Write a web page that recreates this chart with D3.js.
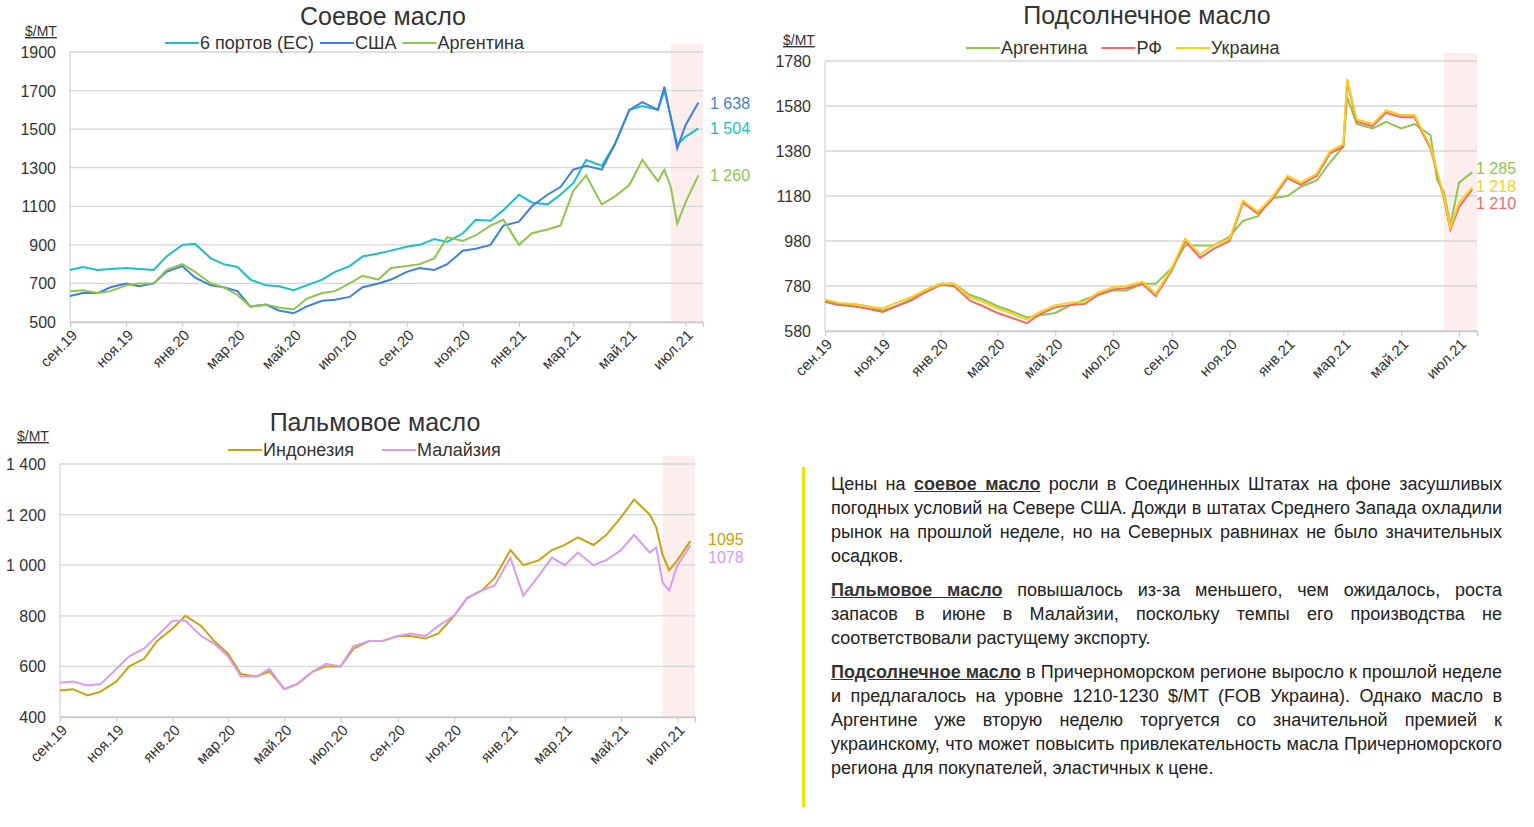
<!DOCTYPE html>
<html><head><meta charset="utf-8">
<script src="https://cdnjs.cloudflare.com/ajax/libs/d3/7.8.5/d3.min.js"></script>
<style>
body{margin:0;background:#fff;font-family:"Liberation Sans",Arial,sans-serif;}
#txt{position:absolute;left:831px;top:472px;width:671px;font-size:18px;line-height:24px;color:#222;text-align:justify;}
#txt p{margin:0 0 10px 0;}
#txt b{font-weight:bold;text-decoration:underline;color:#333;}
#bar{position:absolute;left:802px;top:467px;width:3px;height:340px;background:#f2e400;}
</style></head><body>
<svg id="c" width="1534" height="827"></svg>
<div id="bar"></div>
<div id="txt">
<p>Цены на <b>соевое масло</b> росли в Соединенных Штатах на фоне засушливых погодных условий на Севере США. Дожди в штатах Среднего Запада охладили рынок на прошлой неделе, но на Северных равнинах не было значительных осадков.</p>
<p><b>Пальмовое масло</b> повышалось из-за меньшего, чем ожидалось, роста запасов в июне в Малайзии, поскольку темпы его производства не соответствовали растущему экспорту.</p>
<p><b>Подсолнечное масло</b> в Причерноморском регионе выросло к прошлой неделе и предлагалось на уровне 1210-1230 $/MT (FOB Украина). Однако масло в Аргентине уже вторую неделю торгуется со значительной премией к украинскому, что может повысить привлекательность масла Причерноморского региона для покупателей, эластичных к цене.</p>
</div>
<script>
// ---- data ----
const baseDates = ["2019-09-01","2019-09-15","2019-10-01","2019-10-15","2019-11-01","2019-11-15","2019-12-01","2019-12-15",
  "2020-01-01","2020-01-15","2020-02-01","2020-02-15","2020-03-01","2020-03-15","2020-04-01","2020-04-15","2020-05-01","2020-05-15",
  "2020-06-01","2020-06-15","2020-07-01","2020-07-15","2020-08-01","2020-08-15","2020-09-01","2020-09-15","2020-10-01","2020-10-15",
  "2020-11-01","2020-11-15","2020-12-01","2020-12-15","2021-01-01","2021-01-15","2021-02-01","2021-02-15","2021-03-01","2021-03-15",
  "2021-04-01","2021-04-15","2021-05-01","2021-05-15","2021-06-01","2021-06-08","2021-06-15","2021-06-22","2021-07-01","2021-07-15"];
const sunDates = baseDates.slice(0,37).concat(["2021-03-05"]).concat(baseDates.slice(37));

const tickLabels = ["сен.19","ноя.19","янв.20","мар.20","май.20","июл.20","сен.20","ноя.20","янв.21","мар.21","май.21","июл.21"];
const tickDates = ["2019-09-01","2019-11-01","2020-01-01","2020-03-01","2020-05-01","2020-07-01","2020-09-01","2020-11-01","2021-01-01","2021-03-01","2021-05-01","2021-07-01"];

const soyEU = [770,785,770,775,780,775,770,840,900,905,830,800,785,720,690,685,665,690,720,760,790,840,855,870,890,900,930,915,960,1030,1025,1080,1160,1120,1110,1160,1220,1340,1310,1420,1600,1620,1600,1700,1560,1420,1460,1504];
const soyUS = [635,650,650,680,700,685,700,760,790,730,690,680,660,580,590,560,545,580,610,615,630,680,700,720,760,780,770,800,870,880,900,1000,1020,1100,1160,1200,1290,1310,1290,1420,1600,1640,1600,1720,1560,1400,1520,1638];
const soyAR = [660,665,650,660,690,700,700,770,800,760,700,680,640,580,590,575,565,620,650,660,700,740,720,780,790,800,830,940,920,950,1000,1030,900,960,980,1000,1180,1260,1110,1150,1210,1340,1230,1290,1200,1010,1120,1260];

const sunAR = [715,700,700,690,670,690,720,760,790,790,740,720,690,670,640,650,660,690,720,740,760,760,790,790,860,960,960,960,1000,1070,1090,1170,1180,1220,1250,1330,1400,1620,1500,1480,1510,1480,1500,1450,1250,1200,1050,1240,1285];
const sunRU = [710,695,690,680,665,690,715,750,785,780,715,690,660,640,615,655,685,695,700,740,765,770,790,735,850,980,905,945,980,1150,1100,1160,1260,1230,1270,1370,1400,1690,1510,1490,1550,1530,1530,1390,1280,1170,1030,1130,1210];
const sunUA = [720,705,700,690,680,705,730,760,790,790,730,710,680,660,630,665,695,705,710,750,775,780,800,745,860,990,920,960,990,1160,1110,1170,1270,1240,1280,1380,1410,1700,1520,1500,1560,1540,1540,1400,1290,1180,1040,1150,1218];

const palmID = [505,510,485,500,540,600,630,700,750,800,760,700,650,570,560,580,510,530,580,600,600,670,700,700,720,720,710,730,800,870,900,950,1060,1000,1020,1060,1080,1110,1080,1120,1190,1260,1200,1150,1040,980,1020,1095];
const palmMY = [535,540,525,530,590,640,670,720,780,780,720,690,640,560,560,590,510,530,580,610,600,680,700,700,720,730,720,760,800,870,900,920,1030,880,960,1030,1000,1050,1000,1020,1060,1120,1050,1070,930,900,1000,1078];

const parse = d3.timeParse("%Y-%m-%d");
const svg = d3.select("#c").style("font-family", "'Liberation Sans', Arial, sans-serif");

function chart(o){
  const g = svg.append("g");
  const x = d3.scaleTime().domain([parse("2019-09-01"), parse("2021-07-20")]).range([o.x0, o.x1]);
  const y = d3.scaleLinear().domain(o.dom).range([o.y1, o.y0]);
  // shaded recent period
  g.append("rect").attr("x", x(parse("2021-06-15"))).attr("y", o.y0 - 8)
    .attr("width", o.x1 - x(parse("2021-06-15"))).attr("height", o.y1 - o.y0 + 8).attr("fill", "#fdeeee");
  // grid
  g.selectAll(".gl").data(o.ticks).join("line")
    .attr("x1", o.x0).attr("x2", o.x1).attr("y1", d => y(d)).attr("y2", d => y(d))
    .attr("stroke", "#d6d6d6").attr("stroke-width", 1.3);
  g.selectAll(".yl").data(o.ticks).join("text")
    .attr("x", o.x0 - 14).attr("y", d => y(d) + 6).attr("text-anchor", "end")
    .attr("font-size", 16).attr("fill", "#333").text(o.fmt);
  g.append("line").attr("x1", o.x0).attr("x2", o.x0).attr("y1", o.y0).attr("y2", o.y1).attr("stroke", "#d6d6d6").attr("stroke-width", 1.3);
  const xa = g.append("g").attr("transform", `translate(0,${o.y1})`)
    .call(d3.axisBottom(x).tickValues(tickDates.map(parse)).tickFormat((d, i) => tickLabels[i]).tickSize(5));
  xa.select(".domain").attr("stroke", "#c8c8c8").attr("stroke-width", 1.3);
  xa.selectAll(".tick line").attr("stroke", "#c8c8c8");
  xa.selectAll("text").attr("font-size", 15).attr("fill", "#333").attr("text-anchor", "end")
    .attr("transform", "rotate(-45)").attr("dx", "-0.3em").attr("dy", "0.5em")
    .style("font-family", "'Liberation Sans', Arial, sans-serif");
  const line = d3.line().x(d => x(d[0])).y(d => y(d[1])).curve(d3.curveLinear);
  o.series.forEach(s => {
    const pts = o.dates.map((d, i) => [parse(d), s.v[i]]);
    g.append("path").attr("d", line(pts)).attr("fill", "none").attr("stroke", s.c).attr("stroke-width", 2);
    g.append("text").attr("x", o.lx).attr("y", y(s.v[s.v.length - 1]) + 6 + (s.dy || 0))
      .attr("font-size", 16).attr("fill", s.c).text(s.lab);
  });
  // title, unit
  g.append("text").attr("x", o.tx).attr("y", o.ty).attr("text-anchor", "middle").attr("font-size", 25).attr("fill", "#333").text(o.title);
  g.append("text").attr("x", o.ux).attr("y", o.uy).attr("font-size", 14).attr("fill", "#333")
    .attr("text-decoration", "underline").text("$/MT");
  // legend
  let lx = o.legX;
  o.series.forEach(s => {
    g.append("line").attr("x1", lx).attr("x2", lx + 34).attr("y1", o.legY - 6).attr("y2", o.legY - 6).attr("stroke", s.c).attr("stroke-width", 2);
    const t = g.append("text").attr("x", lx + 35).attr("y", o.legY).attr("font-size", 18).attr("fill", "#333").text(s.name);
    lx += 35 + t.node().getComputedTextLength() + (o.legGap || 6);
  });
}

const fmtSpace = d => d3.format(",")(d).replace(",", " ");

chart({x0:70, x1:703, y0:52, y1:322, dom:[500,1900], ticks:d3.range(500,1901,200), fmt:d => d, dates:baseDates,
  title:"Соевое масло", tx:383, ty:25, ux:25, uy:36, legX:165, legY:49, lx:710,
  series:[{name:"6 портов (ЕС)", v:soyEU, c:"#1cc0c4", lab:"1 504"},
          {name:"США", v:soyUS, c:"#3f7fe0", lab:"1 638"},
          {name:"Аргентина", v:soyAR, c:"#8dc64e", lab:"1 260"}]});

chart({x0:825, x1:1477, y0:61, y1:331, dom:[580,1780], ticks:d3.range(580,1781,200), fmt:d => d, dates:sunDates,
  title:"Подсолнечное масло", tx:1147, ty:24, ux:783, uy:45, legX:966, legY:54, lx:1476, legGap:14,
  series:[{name:"Аргентина", v:sunAR, c:"#8dc64e", lab:"1 285", dy:-4},
          {name:"РФ", v:sunRU, c:"#f26a6a", lab:"1 210", dy:14},
          {name:"Украина", v:sunUA, c:"#f9cf1c", lab:"1 218", dy:-1}]});

chart({x0:60, x1:695, y0:464, y1:717, dom:[400,1400], ticks:d3.range(400,1401,200), fmt:fmtSpace, dates:baseDates,
  title:"Пальмовое масло", tx:375, ty:431, ux:17, uy:441, legX:228, legY:456, lx:708, legGap:28,
  series:[{name:"Индонезия", v:palmID, c:"#c9a20c", lab:"1095", dy:-2},
          {name:"Малайзия", v:palmMY, c:"#d99af2", lab:"1078", dy:12}]});
</script>
</body></html>
